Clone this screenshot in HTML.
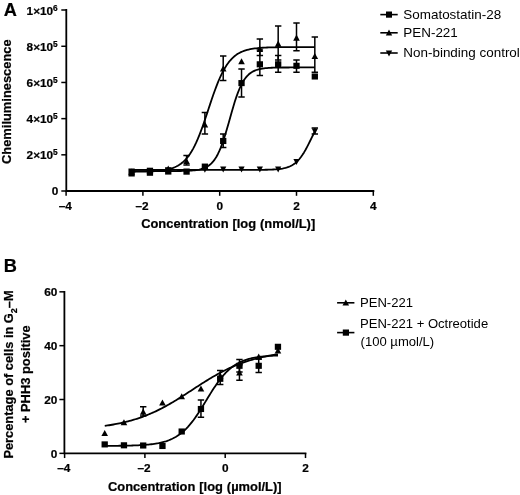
<!DOCTYPE html>
<html><head><meta charset="utf-8"><title>Figure</title>
<style>html,body{margin:0;padding:0;background:#fff}svg{display:block}</style>
</head><body>
<svg width="520" height="495" viewBox="0 0 520 495">
<rect width="520" height="495" fill="#fff"/>
<g fill="none" stroke="#000" stroke-width="1.8" stroke-linecap="butt">
<path d="M66.3 9.1V191.9M65.4 191H374.3"/>
</g>
<g fill="none" stroke="#000" stroke-width="1.5">
<path d="M61.3 191H66.3"/>
<path d="M61.3 154.82H66.3"/>
<path d="M61.3 118.64H66.3"/>
<path d="M61.3 82.46H66.3"/>
<path d="M61.3 46.28H66.3"/>
<path d="M61.3 10H66.3"/>
<path d="M66.1 191V195.8"/>
<path d="M142.9 191V195.8"/>
<path d="M219.7 191V195.8"/>
<path d="M296.5 191V195.8"/>
<path d="M373.3 191V195.8"/>
</g>
<g fill="none" stroke="#000" stroke-width="1.8" stroke-linejoin="round">
<path d="M131.61 171.75L133.15 171.74L134.69 171.73L136.23 171.71L137.77 171.69L139.31 171.67L140.85 171.65L142.39 171.62L143.93 171.59L145.47 171.55L147.01 171.5L148.55 171.45L150.08 171.39L151.62 171.32L153.16 171.24L154.7 171.15L156.24 171.04L157.78 170.92L159.32 170.77L160.86 170.6L162.4 170.41L163.94 170.18L165.48 169.92L167.02 169.62L168.56 169.27L170.1 168.87L171.64 168.4L173.18 167.87L174.72 167.25L176.26 166.55L177.8 165.74L179.34 164.81L180.88 163.75L182.42 162.55L183.96 161.18L185.49 159.63L187.03 157.88L188.57 155.92L190.11 153.73L191.65 151.29L193.19 148.59L194.73 145.63L196.27 142.4L197.81 138.91L199.35 135.16L200.89 131.18L202.43 126.98L203.97 122.6L205.51 118.08L207.05 113.46L208.59 108.81L210.13 104.15L211.67 99.56L213.21 95.08L214.75 90.75L216.29 86.6L217.83 82.68L219.36 79L220.9 75.58L222.44 72.43L223.98 69.54L225.52 66.92L227.06 64.55L228.6 62.42L230.14 60.52L231.68 58.83L233.22 57.34L234.76 56.02L236.3 54.85L237.84 53.83L239.38 52.94L240.92 52.16L242.46 51.48L244 50.89L245.54 50.38L247.08 49.93L248.62 49.55L250.16 49.21L251.7 48.92L253.23 48.67L254.77 48.45L256.31 48.27L257.85 48.11L259.39 47.97L260.93 47.85L262.47 47.74L264.01 47.65L265.55 47.57L267.09 47.51L268.63 47.45L270.17 47.4L271.71 47.36L273.25 47.32L274.79 47.29L276.33 47.26L277.87 47.24L279.41 47.22L280.95 47.2L282.49 47.19L284.03 47.17L285.57 47.16L287.1 47.15L288.64 47.15L290.18 47.14L291.72 47.13L293.26 47.13L294.8 47.12L296.34 47.12L297.88 47.11L299.42 47.11L300.96 47.11L302.5 47.11L304.04 47.11L305.58 47.1L307.12 47.1L308.66 47.1L310.2 47.1L311.74 47.1L313.28 47.1L314.82 47.1"/>
<path d="M131.61 171.1L133.15 171.1L134.69 171.1L136.23 171.1L137.77 171.1L139.31 171.1L140.85 171.1L142.39 171.1L143.93 171.1L145.47 171.1L147.01 171.1L148.55 171.1L150.08 171.1L151.62 171.1L153.16 171.1L154.7 171.1L156.24 171.1L157.78 171.1L159.32 171.09L160.86 171.09L162.4 171.09L163.94 171.09L165.48 171.09L167.02 171.08L168.56 171.08L170.1 171.07L171.64 171.07L173.18 171.06L174.72 171.05L176.26 171.04L177.8 171.02L179.34 171L180.88 170.98L182.42 170.95L183.96 170.91L185.49 170.87L187.03 170.81L188.57 170.74L190.11 170.66L191.65 170.56L193.19 170.43L194.73 170.27L196.27 170.08L197.81 169.84L199.35 169.54L200.89 169.18L202.43 168.74L203.97 168.2L205.51 167.53L207.05 166.72L208.59 165.74L210.13 164.56L211.67 163.13L213.21 161.42L214.75 159.38L216.29 156.99L217.83 154.2L219.36 150.97L220.9 147.31L222.44 143.19L223.98 138.66L225.52 133.75L227.06 128.54L228.6 123.13L230.14 117.64L231.68 112.18L233.22 106.88L234.76 101.84L236.3 97.14L237.84 92.85L239.38 89L240.92 85.6L242.46 82.64L244 80.09L245.54 77.91L247.08 76.08L248.62 74.54L250.16 73.26L251.7 72.2L253.23 71.32L254.77 70.6L256.31 70.01L257.85 69.53L259.39 69.14L260.93 68.82L262.47 68.56L264.01 68.35L265.55 68.18L267.09 68.04L268.63 67.92L270.17 67.83L271.71 67.76L273.25 67.7L274.79 67.65L276.33 67.61L277.87 67.58L279.41 67.55L280.95 67.53L282.49 67.52L284.03 67.5L285.57 67.49L287.1 67.48L288.64 67.48L290.18 67.47L291.72 67.47L293.26 67.46L294.8 67.46L296.34 67.46L297.88 67.45L299.42 67.45L300.96 67.45L302.5 67.45L304.04 67.45L305.58 67.45L307.12 67.45L308.66 67.45L310.2 67.45L311.74 67.45L313.28 67.45L314.82 67.45"/>
<path d="M131.61 169.93L133.15 169.93L134.69 169.93L136.23 169.93L137.77 169.93L139.31 169.93L140.85 169.93L142.39 169.93L143.93 169.93L145.47 169.93L147.01 169.93L148.55 169.93L150.08 169.93L151.62 169.93L153.16 169.93L154.7 169.93L156.24 169.93L157.78 169.93L159.32 169.93L160.86 169.93L162.4 169.93L163.94 169.93L165.48 169.93L167.02 169.93L168.56 169.93L170.1 169.93L171.64 169.93L173.18 169.93L174.72 169.93L176.26 169.93L177.8 169.93L179.34 169.93L180.88 169.93L182.42 169.93L183.96 169.93L185.49 169.93L187.03 169.93L188.57 169.93L190.11 169.93L191.65 169.93L193.19 169.93L194.73 169.93L196.27 169.93L197.81 169.93L199.35 169.93L200.89 169.93L202.43 169.93L203.97 169.93L205.51 169.93L207.05 169.93L208.59 169.93L210.13 169.93L211.67 169.93L213.21 169.92L214.75 169.92L216.29 169.92L217.83 169.92L219.36 169.92L220.9 169.92L222.44 169.92L223.98 169.92L225.52 169.92L227.06 169.92L228.6 169.92L230.14 169.92L231.68 169.92L233.22 169.92L234.76 169.92L236.3 169.92L237.84 169.92L239.38 169.92L240.92 169.92L242.46 169.92L244 169.92L245.54 169.91L247.08 169.91L248.62 169.91L250.16 169.91L251.7 169.9L253.23 169.9L254.77 169.89L256.31 169.88L257.85 169.87L259.39 169.86L260.93 169.84L262.47 169.82L264.01 169.8L265.55 169.77L267.09 169.74L268.63 169.7L270.17 169.65L271.71 169.58L273.25 169.51L274.79 169.42L276.33 169.3L277.87 169.16L279.41 168.99L280.95 168.79L282.49 168.54L284.03 168.23L285.57 167.86L287.1 167.42L288.64 166.88L290.18 166.24L291.72 165.47L293.26 164.55L294.8 163.46L296.34 162.19L297.88 160.71L299.42 159L300.96 157.05L302.5 154.85L304.04 152.41L305.58 149.75L307.12 146.89L308.66 143.88L310.2 140.76L311.74 137.61L313.28 134.49L314.82 131.45"/>
</g>
<g fill="none" stroke="#000" stroke-width="1.5">
<path d="M186.57 155.5V165M183.37 155.5H189.77M183.37 165H189.77"/>
<path d="M204.89 112.6V134M201.69 112.6H208.09M201.69 134H208.09"/>
<path d="M223.21 56V80.6M220.01 56H226.41M220.01 80.6H226.41"/>
<path d="M259.85 39V55.4M256.65 39H263.05M256.65 55.4H263.05"/>
<path d="M278.18 26V60M274.98 26H281.38M274.98 60H281.38"/>
<path d="M296.5 23V50.8M293.3 23H299.7M293.3 50.8H299.7"/>
<path d="M314.82 37V72.3M311.62 37H318.02M311.62 72.3H318.02"/>
<path d="M223.21 134V147.5M220.01 134H226.41M220.01 147.5H226.41"/>
<path d="M241.53 69V97M238.33 69H244.73M238.33 97H244.73"/>
<path d="M259.85 50V75.4M256.65 50H263.05M256.65 75.4H263.05"/>
<path d="M278.18 55.4V72.3M274.98 55.4H281.38M274.98 72.3H281.38"/>
<path d="M296.5 60V72.3M293.3 60H299.7M293.3 72.3H299.7"/>
<path d="M314.82 128V134M311.62 128H318.02M311.62 134H318.02"/>
</g>
<g fill="#000" stroke="none">
<rect x="311.67" y="73.45" width="6.3" height="6.1"/>
<rect x="293.35" y="62.75" width="6.3" height="6.1"/>
<rect x="275.03" y="61.25" width="6.3" height="6.1"/>
<rect x="256.7" y="61.25" width="6.3" height="6.1"/>
<rect x="238.38" y="80.05" width="6.3" height="6.1"/>
<rect x="220.06" y="137.95" width="6.3" height="6.1"/>
<rect x="201.74" y="163.55" width="6.3" height="6.1"/>
<rect x="183.42" y="168.5" width="6.3" height="6.2"/>
<rect x="165.1" y="167.2" width="6.3" height="7.4"/>
<rect x="146.78" y="167.7" width="6.3" height="8.1"/>
<rect x="128.46" y="168.5" width="6.3" height="8"/>
<path d="M311.52 59.05L318.12 59.05L314.82 52.95Z"/>
<path d="M293.2 40.65L299.8 40.65L296.5 34.55Z"/>
<path d="M274.88 46.65L281.48 46.65L278.18 40.55Z"/>
<path d="M256.55 51.95L263.15 51.95L259.85 45.85Z"/>
<path d="M238.23 64.25L244.83 64.25L241.53 58.15Z"/>
<path d="M219.91 71.55L226.51 71.55L223.21 65.45Z"/>
<path d="M201.59 127.45L208.19 127.45L204.89 121.35Z"/>
<path d="M183.27 164.05L189.87 164.05L186.57 157.95Z"/>
<path d="M164.95 171.5L171.55 171.5L168.25 165.4Z"/>
<path d="M146.63 173.85L153.23 173.85L149.93 167.75Z"/>
<path d="M128.31 174.65L134.91 174.65L131.61 168.55Z"/>
<path d="M311.72 128.5L317.92 128.5L314.82 134.5Z"/>
<path d="M293.4 159L299.6 159L296.5 165Z"/>
<path d="M275.08 166.6L281.28 166.6L278.18 172.6Z"/>
<path d="M256.75 166.6L262.95 166.6L259.85 172.6Z"/>
<path d="M238.43 166.6L244.63 166.6L241.53 172.6Z"/>
<path d="M220.11 166.6L226.31 166.6L223.21 172.6Z"/>
<path d="M201.79 166.8L207.99 166.8L204.89 172.8Z"/>
</g>
<g fill="none" stroke="#000" stroke-width="1.8">
<path d="M64.4 291V454.25M63.5 453.35H306.4"/>
</g>
<g fill="none" stroke="#000" stroke-width="1.5">
<path d="M59.4 453.35H64.4"/>
<path d="M59.4 399.51H64.4"/>
<path d="M59.4 345.67H64.4"/>
<path d="M59.4 291.83H64.4"/>
<path d="M64.6 453.35V458.05"/>
<path d="M144.9 453.35V458.05"/>
<path d="M225.2 453.35V458.05"/>
<path d="M305.5 453.35V458.05"/>
</g>
<g fill="none" stroke="#000" stroke-width="1.8" stroke-linejoin="round">
<path d="M104.75 425.89L106.21 425.68L107.66 425.46L109.12 425.24L110.57 425.01L112.03 424.76L113.49 424.51L114.94 424.24L116.4 423.97L117.85 423.68L119.31 423.39L120.76 423.08L122.22 422.75L123.68 422.42L125.13 422.07L126.59 421.71L128.04 421.34L129.5 420.95L130.96 420.55L132.41 420.14L133.87 419.71L135.32 419.26L136.78 418.8L138.23 418.32L139.69 417.83L141.15 417.32L142.6 416.8L144.06 416.26L145.51 415.7L146.97 415.12L148.43 414.53L149.88 413.92L151.34 413.29L152.79 412.65L154.25 411.99L155.71 411.31L157.16 410.62L158.62 409.9L160.07 409.18L161.53 408.43L162.98 407.67L164.44 406.89L165.9 406.1L167.35 405.29L168.81 404.47L170.26 403.64L171.72 402.79L173.18 401.92L174.63 401.05L176.09 400.17L177.54 399.27L179 398.37L180.45 397.45L181.91 396.53L183.37 395.6L184.82 394.67L186.28 393.73L187.73 392.78L189.19 391.83L190.65 390.89L192.1 389.94L193.56 388.99L195.01 388.04L196.47 387.09L197.92 386.15L199.38 385.21L200.84 384.27L202.29 383.34L203.75 382.42L205.2 381.51L206.66 380.61L208.12 379.71L209.57 378.83L211.03 377.96L212.48 377.1L213.94 376.25L215.4 375.42L216.85 374.6L218.31 373.79L219.76 373L221.22 372.23L222.67 371.47L224.13 370.73L225.59 370L227.04 369.29L228.5 368.6L229.95 367.92L231.41 367.26L232.87 366.62L234.32 366L235.78 365.39L237.23 364.8L238.69 364.23L240.14 363.67L241.6 363.13L243.06 362.61L244.51 362.1L245.97 361.61L247.42 361.14L248.88 360.68L250.34 360.24L251.79 359.81L253.25 359.4L254.7 359L256.16 358.61L257.62 358.24L259.07 357.88L260.53 357.54L261.98 357.21L263.44 356.89L264.89 356.58L266.35 356.28L267.81 356L269.26 355.73L270.72 355.46L272.17 355.21L273.63 354.97L275.09 354.74L276.54 354.51L278 354.3"/>
<path d="M104.75 445.88L106.21 445.87L107.66 445.87L109.12 445.86L110.57 445.85L112.03 445.84L113.49 445.83L114.94 445.82L116.4 445.8L117.85 445.79L119.31 445.77L120.76 445.75L122.22 445.73L123.68 445.71L125.13 445.68L126.59 445.65L128.04 445.62L129.5 445.59L130.96 445.55L132.41 445.51L133.87 445.46L135.32 445.4L136.78 445.35L138.23 445.28L139.69 445.21L141.15 445.13L142.6 445.04L144.06 444.94L145.51 444.83L146.97 444.71L148.43 444.57L149.88 444.42L151.34 444.26L152.79 444.07L154.25 443.87L155.71 443.65L157.16 443.4L158.62 443.13L160.07 442.82L161.53 442.49L162.98 442.12L164.44 441.72L165.9 441.28L167.35 440.79L168.81 440.25L170.26 439.66L171.72 439.02L173.18 438.31L174.63 437.54L176.09 436.7L177.54 435.79L179 434.8L180.45 433.73L181.91 432.58L183.37 431.33L184.82 429.99L186.28 428.56L187.73 427.03L189.19 425.4L190.65 423.68L192.1 421.86L193.56 419.95L195.01 417.95L196.47 415.87L197.92 413.71L199.38 411.49L200.84 409.21L202.29 406.88L203.75 404.51L205.2 402.13L206.66 399.73L208.12 397.34L209.57 394.97L211.03 392.63L212.48 390.33L213.94 388.08L215.4 385.89L216.85 383.78L218.31 381.75L219.76 379.81L221.22 377.95L222.67 376.19L224.13 374.53L225.59 372.96L227.04 371.49L228.5 370.12L229.95 368.83L231.41 367.64L232.87 366.54L234.32 365.52L235.78 364.58L237.23 363.71L238.69 362.92L240.14 362.19L241.6 361.52L243.06 360.91L244.51 360.35L245.97 359.85L247.42 359.39L248.88 358.97L250.34 358.59L251.79 358.24L253.25 357.93L254.7 357.64L256.16 357.39L257.62 357.15L259.07 356.94L260.53 356.75L261.98 356.58L263.44 356.42L264.89 356.28L266.35 356.16L267.81 356.04L269.26 355.94L270.72 355.85L272.17 355.76L273.63 355.69L275.09 355.62L276.54 355.56L278 355.5"/>
</g>
<g fill="none" stroke="#000" stroke-width="1.5">
<path d="M143.2 406.8V416M140 406.8H146.4M140 416H146.4"/>
<path d="M200.95 400V417.2M197.75 400H204.15M197.75 417.2H204.15"/>
<path d="M220.2 370.6V384.5M217 370.6H223.4M217 384.5H223.4"/>
<path d="M239.45 359.6V372M236.25 359.6H242.65M236.25 372H242.65"/>
<path d="M239.45 364.8V380.2M236.25 364.8H242.65M236.25 380.2H242.65"/>
<path d="M258.7 359V372.5M255.5 359H261.9M255.5 372.5H261.9"/>
</g>
<g fill="#000" stroke="none">
<rect x="101.55" y="441.35" width="6.3" height="6.1"/>
<rect x="120.8" y="442.25" width="6.3" height="6.1"/>
<rect x="140.05" y="442.45" width="6.3" height="6.1"/>
<rect x="159.3" y="442.95" width="6.3" height="6.1"/>
<rect x="178.55" y="428.45" width="6.3" height="6.1"/>
<rect x="197.8" y="405.95" width="6.3" height="6.1"/>
<rect x="217.05" y="375.75" width="6.3" height="6.1"/>
<rect x="236.3" y="362.75" width="6.3" height="6.1"/>
<rect x="255.55" y="362.75" width="6.3" height="6.1"/>
<rect x="274.8" y="343.75" width="6.3" height="6.1"/>
<path d="M101.4 436.05L108 436.05L104.7 429.95Z"/>
<path d="M120.65 425.35L127.25 425.35L123.95 419.25Z"/>
<path d="M139.9 414.65L146.5 414.65L143.2 408.55Z"/>
<path d="M159.15 405.55L165.75 405.55L162.45 399.45Z"/>
<path d="M178.4 399.25L185 399.25L181.7 393.15Z"/>
<path d="M197.65 391.55L204.25 391.55L200.95 385.45Z"/>
<path d="M216.9 378.45L223.5 378.45L220.2 372.35Z"/>
<path d="M236.15 375.55L242.75 375.55L239.45 369.45Z"/>
<path d="M255.4 359.65L262 359.65L258.7 353.55Z"/>
<path d="M274.65 353.45L281.25 353.45L277.95 347.35Z"/>
</g>
<g fill="none" stroke="#000" stroke-width="1.6">
<path d="M380.3 14.6H397.7"/>
<path d="M380.3 32.8H397.7"/>
<path d="M380.3 53.0H397.7"/>
<path d="M337.1 302.8H354.4"/>
<path d="M337.1 332.6H354.4"/>
</g>
<g fill="#000">
<rect x="386" y="11.5" width="6" height="6.2"/>
<path d="M385.8 35.6L392.2 35.6L389 29.6Z"/>
<path d="M385.8 50.4L392.2 50.4L389 56.4Z"/>
<path d="M342.5 305.6L349.1 305.6L345.8 299.6Z"/>
<rect x="342.8" y="329.5" width="6.2" height="6.2"/>
</g>
<g font-family='"Liberation Sans", Arial, Helvetica, sans-serif' fill="#000">
<g font-size="13.45">
<text x="403.3" y="18.9">Somatostatin-28</text>
<text x="403.3" y="37">PEN-221</text>
<text x="403.3" y="57">Non-binding control</text>
<g font-size="13.07">
<text x="360" y="306.6">PEN-221</text>
<text x="360" y="327.9">PEN-221 + Octreotide</text>
<text x="360.6" y="345.9">(100 µmol/L)</text>
</g>
</g>
<g font-weight="bold" stroke="#000" stroke-width="0.22" stroke-linejoin="round">
<text x="3.8" y="16.1" font-size="18.2">A</text>
<text x="3.8" y="272.3" font-size="18.2">B</text>
<g font-size="12.9">
<text x="141.2" y="227.8" word-spacing="0.35">Concentration [log (nmol/L)]</text>
<text x="108" y="490.5" word-spacing="0.35">Concentration [log (µmol/L)]</text>
<text transform="translate(11.3 164) rotate(-90)">Chemiluminescence</text>
<text transform="translate(13.1 458.6) rotate(-90)" font-size="12.83">Percentage of cells in G<tspan font-size="9" dy="3.4">2</tspan><tspan dy="-3.4">–M</tspan></text>
<text transform="translate(30 423.1) rotate(-90)">+ PHH3 positive</text>
</g>
<g font-size="11.8" text-anchor="end">
<text x="53.2" y="14.6">1×10</text>
<text x="57.6" y="10.7" font-size="8.3">6</text>
<text x="53.2" y="50.78">8×10</text>
<text x="57.6" y="46.88" font-size="8.3">5</text>
<text x="53.2" y="86.96">6×10</text>
<text x="57.6" y="83.06" font-size="8.3">5</text>
<text x="53.2" y="123.14">4×10</text>
<text x="57.6" y="119.24" font-size="8.3">5</text>
<text x="53.2" y="159.32">2×10</text>
<text x="57.6" y="155.42" font-size="8.3">5</text>
<text x="58.2" y="195.4">0</text>
<text x="57.3" y="457.95">0</text>
<text x="57.3" y="404.11">20</text>
<text x="57.3" y="350.27">40</text>
<text x="57.3" y="296.43">60</text>
</g>
<g font-size="11.8" text-anchor="middle">
<text x="65.2" y="209.7">–4</text>
<text x="142" y="209.7">–2</text>
<text x="219.7" y="209.7">0</text>
<text x="296.5" y="209.7">2</text>
<text x="373.3" y="209.7">4</text>
<text x="63.7" y="471.95">–4</text>
<text x="144" y="471.95">–2</text>
<text x="225.2" y="471.95">0</text>
<text x="305.5" y="471.95">2</text>
</g>
</g></g>
</svg>
</body></html>
